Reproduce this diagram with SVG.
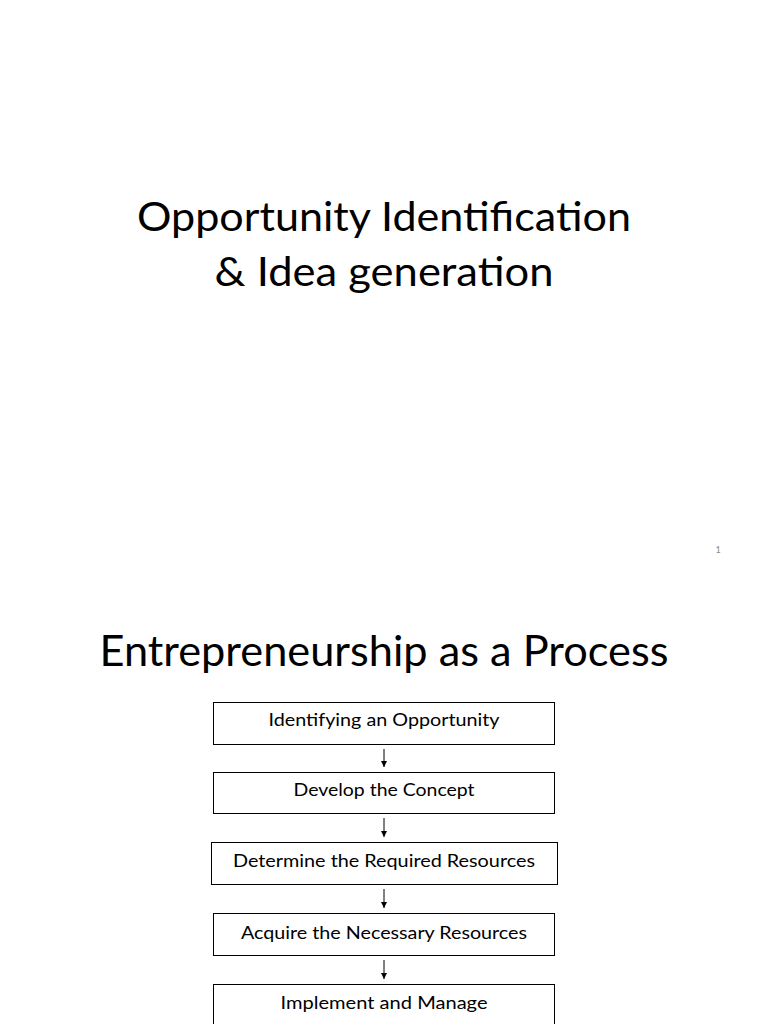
<svg xmlns="http://www.w3.org/2000/svg" width="768" height="1024" viewBox="0 0 768 1024">
<style>
.t{font-family:Lato,"Open Sans","Liberation Sans",sans-serif;fill:#000;text-anchor:middle}
.title{font-size:40px}
.lbl{font-size:18px}
.box{fill:#fff;stroke:#000;stroke-width:1}
.conn{stroke:#000;stroke-width:1;fill:none}
</style>
<defs>
<marker id="ah" viewBox="0 0 10 10" refX="10" refY="5" markerWidth="6" markerHeight="6" markerUnits="userSpaceOnUse" orient="auto">
<path d="M0,0 L10,5 L0,10 z" fill="#000"/>
</marker>
</defs>
<rect width="768" height="1024" fill="#fff"/>
<text class="t title" x="384" y="231" textLength="494" lengthAdjust="spacingAndGlyphs">Opportunity Identification</text>
<text class="t title" x="384" y="286" textLength="339" lengthAdjust="spacingAndGlyphs">&amp; Idea generation</text>
<text x="718" y="553" font-family="Lato,'Liberation Sans',sans-serif" font-size="9" fill="#888" text-anchor="middle">1</text>
<text class="t" x="384" y="666" font-size="42" textLength="569" lengthAdjust="spacingAndGlyphs">Entrepreneurship as a Process</text>
<g id="connectors">
<line class="conn" x1="384" y1="749" x2="384" y2="767" marker-end="url(#ah)"/>
<line class="conn" x1="384" y1="818" x2="384" y2="837" marker-end="url(#ah)"/>
<line class="conn" x1="384" y1="889" x2="384" y2="908" marker-end="url(#ah)"/>
<line class="conn" x1="384" y1="960" x2="384" y2="979" marker-end="url(#ah)"/>
</g>
<g id="n1"><rect class="box" x="213.5" y="702.5" width="341" height="42"/><text class="t lbl" x="384" y="726" textLength="231" lengthAdjust="spacingAndGlyphs">Identifying an Opportunity</text></g>
<g id="n2"><rect class="box" x="213.5" y="772.5" width="341" height="41"/><text class="t lbl" x="384" y="796" textLength="181" lengthAdjust="spacingAndGlyphs">Develop the Concept</text></g>
<g id="n3"><rect class="box" x="211.5" y="842.5" width="346" height="42"/><text class="t lbl" x="384" y="867" textLength="302" lengthAdjust="spacingAndGlyphs">Determine the Required Resources</text></g>
<g id="n4"><rect class="box" x="213.5" y="913.5" width="341" height="42"/><text class="t lbl" x="384" y="939" textLength="286" lengthAdjust="spacingAndGlyphs">Acquire the Necessary Resources</text></g>
<g id="n5"><rect class="box" x="213.5" y="984.5" width="341" height="45"/><text class="t lbl" x="384" y="1009" textLength="207" lengthAdjust="spacingAndGlyphs">Implement and Manage</text></g>
</svg>
